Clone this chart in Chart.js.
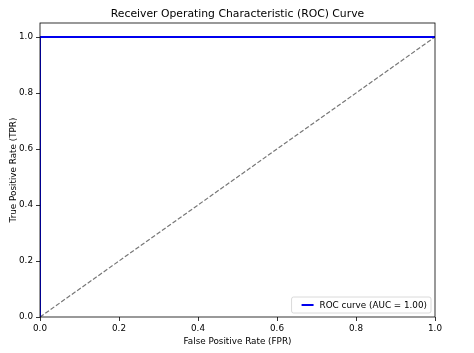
<!DOCTYPE html>
<html>
<head>
<meta charset="utf-8">
<script src="https://cdn.jsdelivr.net/npm/chart.js@4"></script>
<style>
  html, body { margin: 0; padding: 0; background: #fff; }
  canvas { display: block; }
</style>
</head>
<body>
<canvas id="roc" width="474" height="353"></canvas>
<script>
  // ROC points
  const fpr = [0, 0, 1];
  const tpr = [0, 1, 1];
  const chanceX = [0, 1];
  const chanceY = [0, 1];
  const xTicks = [0, 0.2, 0.4, 0.6, 0.8, 1.0];
  const yTicks = [0, 0.2, 0.4, 0.6, 0.8, 1.0];
  const aucLabel = 'ROC curve (AUC = 1.00)';
  const titleText = 'Receiver Operating Characteristic (ROC) Curve';

  const FONT = "'DejaVu Sans', sans-serif";
  const SMALL = 8.8;

  const toPoints = (xs, ys) => xs.map((x, i) => ({ x, y: ys[i] }));

  // frame, title over the axes, legend inside lower right (matplotlib look)
  const framePlugin = {
    id: 'frame',
    afterDatasetsDraw(chart) {
      const { ctx, chartArea: a } = chart;
      ctx.save();
      ctx.strokeStyle = '#000';
      ctx.lineWidth = 0.8;
      ctx.strokeRect(a.left, a.top, a.right - a.left, a.bottom - a.top);

      ctx.fillStyle = '#000';
      ctx.font = `10.8px ${FONT}`;
      ctx.textAlign = 'center';
      ctx.textBaseline = 'middle';
      ctx.fillText(titleText, (a.left + a.right) / 2, 14.5);

      // legend
      ctx.font = `${SMALL}px ${FONT}`;
      ctx.textAlign = 'left';
      const tw = ctx.measureText(aucLabel).width;
      const w = tw + 32, h = 16;
      const x = a.right - 4 - w, y = a.bottom - 4 - h;
      ctx.beginPath();
      ctx.roundRect(x, y, w, h, 2);
      ctx.fillStyle = 'rgba(255,255,255,0.8)';
      ctx.fill();
      ctx.strokeStyle = '#d0d0d0';
      ctx.lineWidth = 0.8;
      ctx.stroke();
      const ds = chart.data.datasets[0];
      ctx.strokeStyle = ds.borderColor;
      ctx.lineWidth = ds.borderWidth;
      ctx.beginPath();
      ctx.moveTo(x + 10, y + h / 2);
      ctx.lineTo(x + 22, y + h / 2);
      ctx.stroke();
      ctx.fillStyle = '#000';
      ctx.fillText(aucLabel, x + 28, y + h / 2 + 0.5);
      ctx.restore();
    }
  };

  new Chart(document.getElementById('roc'), {
    type: 'scatter',
    data: {
      datasets: [
        {
          label: aucLabel,
          data: toPoints(fpr, tpr),
          showLine: true,
          borderColor: '#0000ee',
          borderWidth: 2,
          pointRadius: 0,
          tension: 0
        },
        {
          label: 'chance',
          data: toPoints(chanceX, chanceY),
          showLine: true,
          borderColor: '#777777',
          borderWidth: 1.2,
          borderDash: [4.5, 2],
          pointRadius: 0,
          tension: 0
        }
      ]
    },
    options: {
      responsive: false,
      animation: false,
      layout: { padding: { left: 0, right: 39, top: 23, bottom: 0 } },
      plugins: {
        legend: { display: false },
        tooltip: { enabled: false },
        title: { display: false }
      },
      scales: {
        x: {
          type: 'linear',
          min: 0,
          max: 1,
          afterBuildTicks: s => { s.ticks = xTicks.map(v => ({ value: v })); },
          afterFit: s => { s.height = 36; },
          grid: { drawOnChartArea: false, drawTicks: true, tickLength: 4, color: '#000', lineWidth: 0.8 },
          border: { display: false },
          ticks: {
            color: '#000',
            padding: 2,
            maxRotation: 0,
            font: { family: FONT, size: SMALL },
            callback: v => v.toFixed(1)
          },
          title: {
            display: true,
            text: 'False Positive Rate (FPR)',
            color: '#000',
            font: { family: FONT, size: SMALL },
            padding: { top: 0, bottom: 6 }
          }
        },
        y: {
          type: 'linear',
          min: 0,
          max: 1.05,
          afterBuildTicks: s => { s.ticks = yTicks.map(v => ({ value: v })); },
          afterFit: s => { s.width = 40; },
          grid: { drawOnChartArea: false, drawTicks: true, tickLength: 4, color: '#000', lineWidth: 0.8 },
          border: { display: false },
          ticks: {
            color: '#000',
            padding: 3,
            font: { family: FONT, size: SMALL },
            callback: v => v.toFixed(1)
          },
          title: {
            display: true,
            text: 'True Positive Rate (TPR)',
            color: '#000',
            font: { family: FONT, size: SMALL },
            padding: { top: 8, bottom: 0 }
          }
        }
      }
    },
    plugins: [framePlugin]
  });
</script>
</body>
</html>
